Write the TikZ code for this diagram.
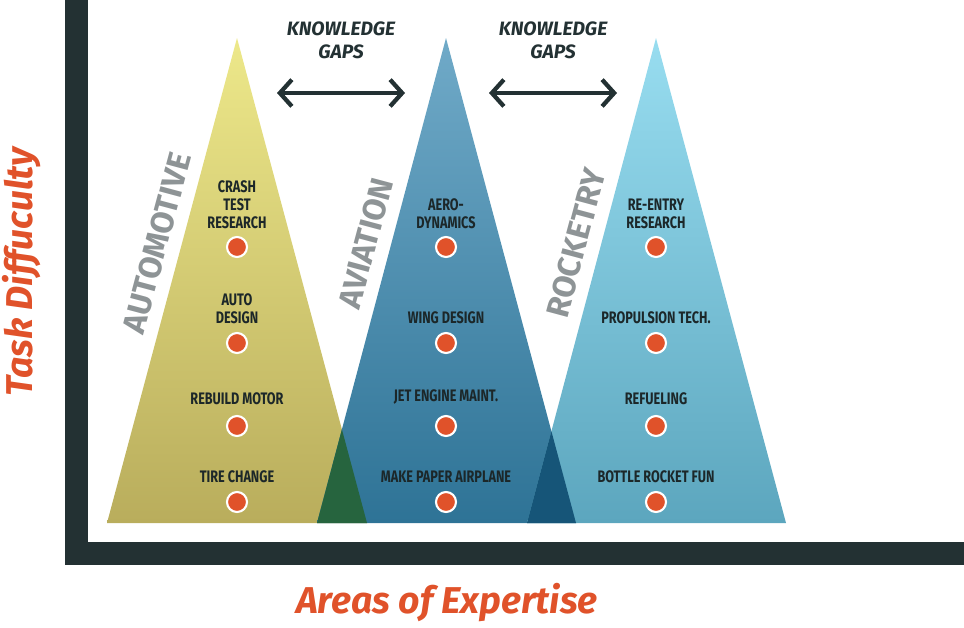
\documentclass[tikz,border=0pt]{standalone}
\usepackage{fontspec}
\setmainfont{Fira Sans}
\newfontfamily\cond[FakeStretch=0.76]{Fira Sans}
\usetikzlibrary{arrows.meta}
\definecolor{axis}{HTML}{233133}
\definecolor{orng}{HTML}{E0522A}
\definecolor{gry}{HTML}{8E9496}
\definecolor{autT}{RGB}{237,232,138}
\definecolor{autB}{RGB}{185,173,92}
\definecolor{aviT}{RGB}{112,170,200}
\definecolor{aviB}{RGB}{46,115,150}
\definecolor{rocT}{RGB}{152,221,240}
\definecolor{rocB}{RGB}{92,166,190}
\definecolor{ovA}{RGB}{38,100,62}
\definecolor{ovB}{RGB}{22,85,120}
\begin{document}
\begin{tikzpicture}[x=0.75pt,y=-0.75pt,
  item/.style={font=\cond\bfseries\fontsize{12.5}{13.5}\selectfont,text=axis!80!black,align=center,inner sep=0pt},
  dot/.style={circle,fill=orng,draw=white,line width=1.6pt,minimum size=15pt,inner sep=0pt},
  field/.style={font=\bfseries\fontsize{24}{26}\selectfont,text=gry,inner sep=0pt},
  gap/.style={font=\bfseries\itshape\fontsize{14.5}{17}\selectfont,text=axis,align=center,inner sep=0pt},
  dbl/.style={draw=axis,line width=3.2pt,{Straight Barb[length=9pt,width=20pt]}-{Straight Barb[length=9pt,width=20pt]}}]
\useasboundingbox (0,0) rectangle (964,628);
% triangles
\shade[top color=autT,bottom color=autB] (237,38)--(107,523)--(367,523)--cycle;
\shade[top color=aviT,bottom color=aviB] (446,38)--(317,523)--(576,523)--cycle;
\begin{scope}\clip (237,38)--(107,523)--(367,523)--cycle;
\fill[ovA] (446,38)--(317,523)--(576,523)--cycle;\end{scope}
\shade[top color=rocT,bottom color=rocB] (656,38)--(527,523)--(786,523)--cycle;
\begin{scope}\clip (446,38)--(317,523)--(576,523)--cycle;
\fill[ovB] (656,38)--(527,523)--(786,523)--cycle;\end{scope}
% axes
\fill[axis] (65,0) rectangle (88,565);
\fill[axis] (65,542) rectangle (964,565);
\node[font=\bfseries\itshape\fontsize{28}{30}\selectfont,text=orng] (xl) at (447,603) {Areas of Expertise};
\node[font=\bfseries\itshape\fontsize{28}{30}\selectfont,text=orng,rotate=90] (yl) at (22,272) {Task Diffuculty};
% field titles
\node[field,rotate=75] (f1) at (157,243) {AUTOMOTIVE};
\node[field,rotate=75] (f2) at (366,243) {AVIATION};
\node[field,rotate=75] (f3) at (576,243) {ROCKETRY};
% knowledge gaps
\node[gap] (g1) at (341,40) {KNOWLEDGE\\GAPS};
\node[gap] (g2) at (553,40) {KNOWLEDGE\\GAPS};
\coordinate (a1) at (277,93); \coordinate (b1) at (405,93);
\coordinate (a2) at (489,93); \coordinate (b2) at (617,93);
\draw[dbl] (a1)--(b1);
\draw[dbl] (a2)--(b2);
% items
\foreach \x/\n/\ta/\tb/\tc/\td in {237/A/CRASH\\TEST\\RESEARCH/AUTO\\DESIGN/REBUILD MOTOR/TIRE CHANGE,
 446/B/AERO-\\DYNAMICS/WING DESIGN/JET ENGINE MAINT./MAKE PAPER AIRPLANE,
 656/C/RE-ENTRY\\RESEARCH/PROPULSION TECH./REFUELING/BOTTLE ROCKET FUN}{
 \node[dot] (d\n1) at (\x,247) {};
 \node[dot] (d\n2) at (\x,343) {};
 \node[dot] (d\n3) at (\x,426) {};
 \node[dot] (d\n4) at (\x,502) {};
 \node[item,anchor=south] (t\n1) at (\x,229) {\ta};
 \node[item,anchor=south] (t\n2) at (\x,324) {\tb};
 \node[item,anchor=south] (t\n3) at (\x,405) {\tc};
 \node[item,anchor=south] (t\n4) at (\x,483) {\td};
}
\end{tikzpicture}
\end{document}
